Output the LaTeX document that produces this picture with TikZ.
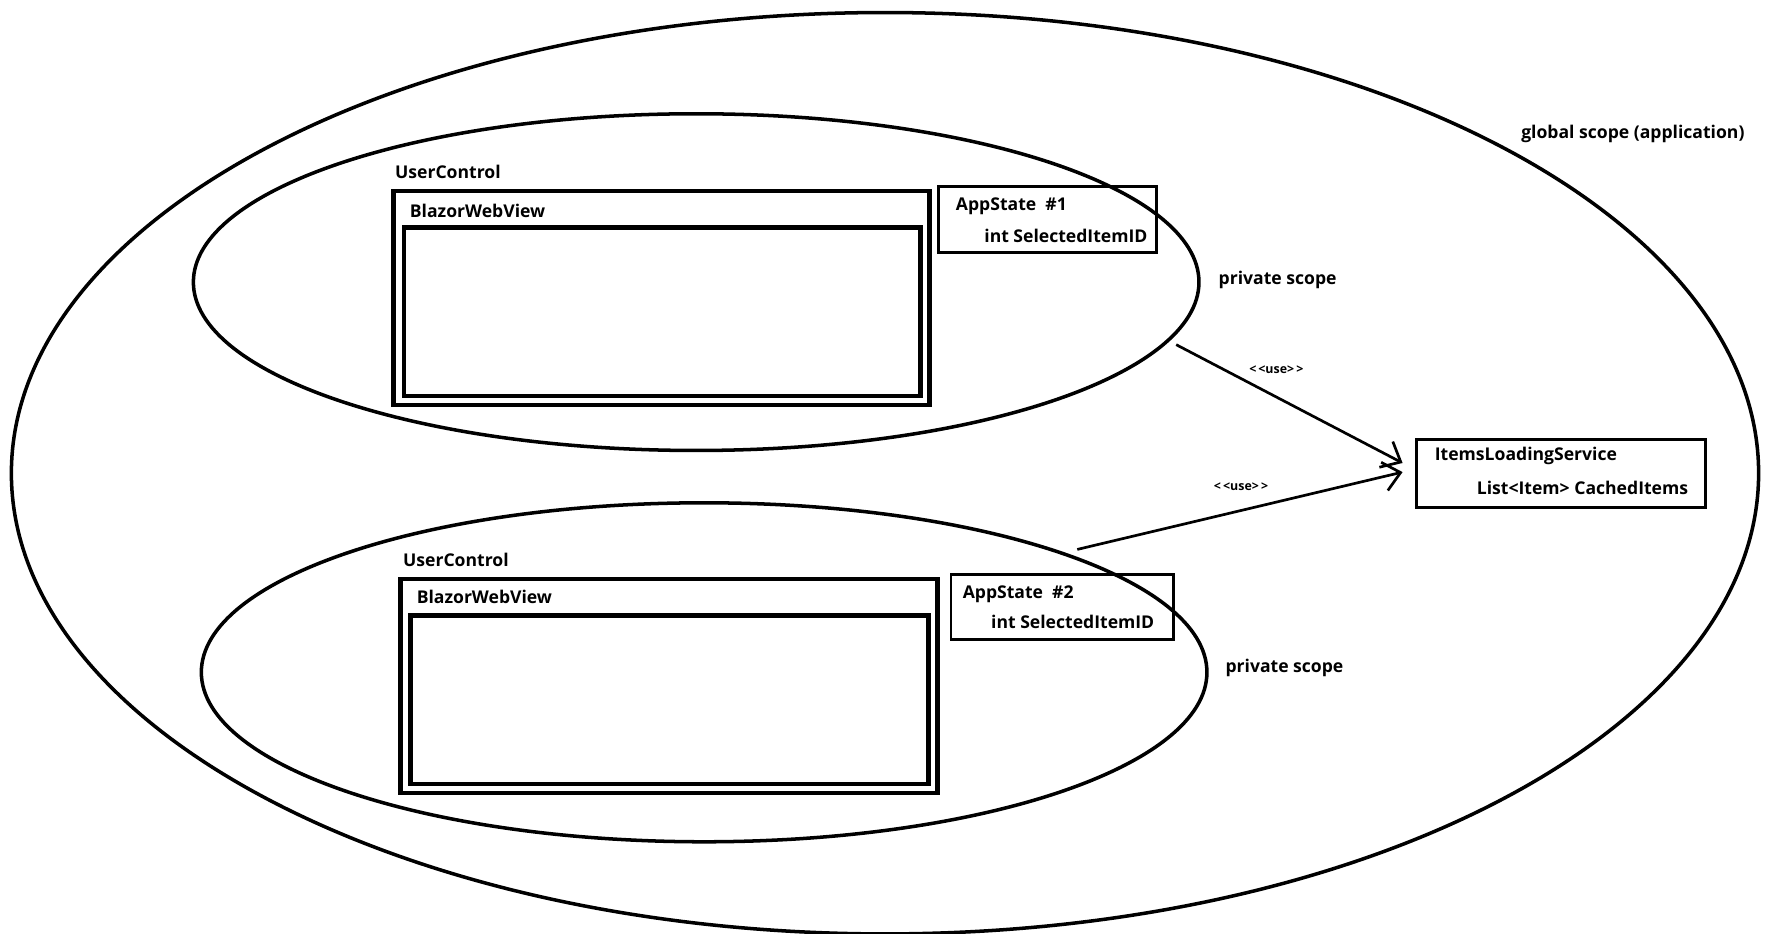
\documentclass[tikz,border=0pt]{standalone}
\usepackage{fontspec}
\setmainfont{Open Sans}
\usetikzlibrary{arrows.meta}
\begin{document}
\begin{tikzpicture}[x=0.55pt,y=-0.55pt,
  lbl/.style={anchor=west,inner sep=0pt,font=\fontsize{8.5}{10}\selectfont\bfseries},
  small/.style={inner sep=0pt,font=\fontsize{6}{8}\selectfont\bfseries},
  ell/.style={line width=1.7pt},
  thick box/.style={line width=2.2pt},
  thin box/.style={line width=1.4pt}]
\useasboundingbox (0,0) rectangle (1556,821);
\draw[ell] (778,416) ellipse [x radius=768, y radius=405];
\draw[ell] (612,248) ellipse [x radius=442, y radius=148];
\draw[ell] (619,591) ellipse [x radius=442, y radius=149];
\node[lbl] (g) at (1337,118) {global scope (application)};
% upper
\node[lbl] (uc1) at (347,151) {UserControl};
\draw[thick box] (346,168) rectangle (817,356);
\draw[thick box] (355,200) rectangle (809,348);
\node[lbl] (bw1) at (360,185) {BlazorWebView};
\draw[thin box] (825,164) rectangle (1017,222);
\node[lbl] (as1) at (840,181) {AppState~~\#1};
\node[lbl] (id1) at (865,207) {int SelectedItemID};
\node[lbl] (ps1) at (1071,246) {private scope};
% lower
\node[lbl] (uc2) at (354,492) {UserControl};
\draw[thick box] (352,509) rectangle (824,697);
\draw[thick box] (361,541) rectangle (816,689);
\node[lbl] (bw2) at (366,525) {BlazorWebView};
\draw[thin box] (836,505) rectangle (1032,562);
\node[lbl] (as2) at (846,522) {AppState~~\#2};
\node[lbl] (id2) at (871,547) {int SelectedItemID};
\node[lbl] (ps2) at (1077,587) {private scope};
% service
\draw[thin box] (1245,386) rectangle (1499,446);
\coordinate (svcw) at (1233,407);
\coordinate (svcw2) at (1233,415);
\node[lbl] (sv1) at (1261,401) {ItemsLoadingService};
\node[lbl] (sv2) at (1298,429) {List\textless Item\textgreater{} CachedItems};
\coordinate (a1) at (1034,303);
\coordinate (a2) at (947,483);
\draw[line width=1.3pt,-{Straight Barb[length=8pt,width=14pt,line width=1.3pt]}] (a1) -- (svcw);
\draw[line width=1.3pt,-{Straight Barb[length=8pt,width=14pt,line width=1.3pt]}] (a2) -- (svcw2);
\node[small] (u1) at (1122,325) {\textless\,\textless use\textgreater\,\textgreater};
\node[small] (u2) at (1091,428) {\textless\,\textless use\textgreater\,\textgreater};
\end{tikzpicture}
\end{document}
